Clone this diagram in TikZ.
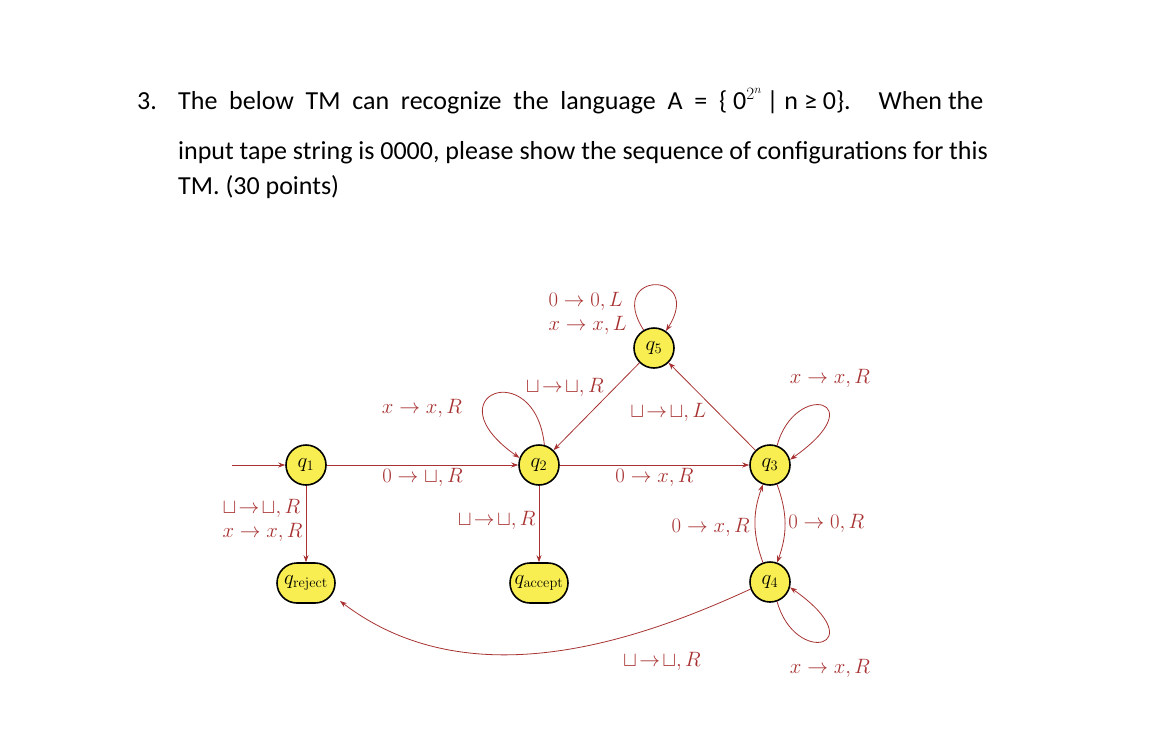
\documentclass[tikz,border=0pt]{standalone}
\usepackage[no-math]{fontspec}
\usepackage{amsmath}
\setmainfont{Carlito}
\usetikzlibrary{arrows.meta,shapes.misc}
\definecolor{edge}{HTML}{A83232}
\definecolor{fillq}{HTML}{F8EE52}
\tikzset{
  st/.style={circle,draw=black,line width=1.6pt,fill=fillq,minimum size=40pt,inner sep=0pt,font=\fontsize{20}{24}\selectfont},
  halt/.style={rounded rectangle,draw=black,line width=1.6pt,fill=fillq,minimum height=40pt,minimum width=62pt,inner sep=2pt,font=\fontsize{20}{24}\selectfont},
  tr/.style={draw=edge,line width=0.8pt,-{Stealth[length=7pt,width=5pt]}},
  lb/.style={text=edge,font=\fontsize{20}{24}\selectfont,inner sep=1pt,align=left},
  hd/.style={anchor=base west,inner sep=0pt,font=\fontsize{26}{30}\selectfont}
}
\begin{document}
\begin{tikzpicture}[x=1pt,y=-1pt]
\useasboundingbox (0,0) rectangle (1156,732);
\fill[white] (0,0) rectangle (1156,732);
\node[hd] (h0) at (137,109) {3.};
\node[hd] (h1) at (178,109) {The\ \ below\ \ TM\ \ can\ \ recognize\ \ the\ \ language\ \ A\ \ =\ \ \{\ 0$^{2^n}$\,|\ n ≥ 0\}.\hspace{28pt}When the};
\node[hd] (h2) at (178,159) {input tape string is 0000, please show the sequence of configurations for this};
\node[hd] (h3) at (178,194) {TM. (30 points)};

\node[st] (q1) at (306,465) {$q_1$};
\node[st] (q2) at (539,465) {$q_2$};
\node[st] (q3) at (770,465) {$q_3$};
\node[st] (q5) at (654,348) {$q_5$};
\node[st] (q4) at (770,582) {$q_4$};
\node[halt] (qr) at (306,583) {$q_{\mathrm{reject}}$};
\node[halt] (qa) at (539,583) {$q_{\mathrm{accept}}$};
\coordinate (s) at (232,465);

\draw[tr] (s) -- (q1);
\draw[tr] (q1) -- node[lb,below=2pt] {$0\rightarrow\sqcup,R$} (q2);
\draw[tr] (q2.75) .. controls (535,355) and (430,395) .. (q2.160);
\node[lb] (l2) at (422,408) {$x\rightarrow x,R$};
\draw[tr] (q5) -- node[lb,above left=0pt,pos=0.4] {$\sqcup\!\rightarrow\!\sqcup,R$} (q2);
\draw[tr] (q2) -- node[lb,below=2pt] {$0\rightarrow x,R$} (q3);
\draw[tr] (q3) -- node[lb,below left=0pt,pos=0.55] {$\sqcup\!\rightarrow\!\sqcup,L$} (q5);
\draw[tr] (q3.70) .. controls (795,380) and (875,400) .. (q3.15);
\node[lb] (l3) at (830,378) {$x\rightarrow x,R$};
\draw[tr] (q4.-70) .. controls (795,667) and (875,647) .. (q4.-15);
\node[lb] (l4) at (830,668) {$x\rightarrow x,R$};
\draw[tr] (q3) to[bend left=20] node[lb,right=2pt] {$0\rightarrow 0,R$} (q4);
\draw[tr] (q4) to[bend left=20] node[lb,left=4pt,pos=0.45] {$0\rightarrow x,R$} (q3);
\draw[tr] (q5.120) .. controls (605,270) and (705,270) .. (q5.55);
\node[lb,anchor=south east] (l5) at (628,336) {$0\rightarrow 0,L$\\$x\rightarrow x,L$};
\draw[tr] (q1) -- node[lb,left=2pt,pos=0.45] {$\sqcup\!\rightarrow\!\sqcup,R$\\$x\rightarrow x,R$} (qr);
\draw[tr] (q2) -- node[lb,left=2pt,pos=0.45] {$\sqcup\!\rightarrow\!\sqcup,R$} (qa);
\draw[tr] (q4.200) .. controls (640,640) and (470,700) .. (340,601);
\node[lb] (l4r) at (662,661) {$\sqcup\!\rightarrow\!\sqcup,R$};
\end{tikzpicture}
\end{document}
